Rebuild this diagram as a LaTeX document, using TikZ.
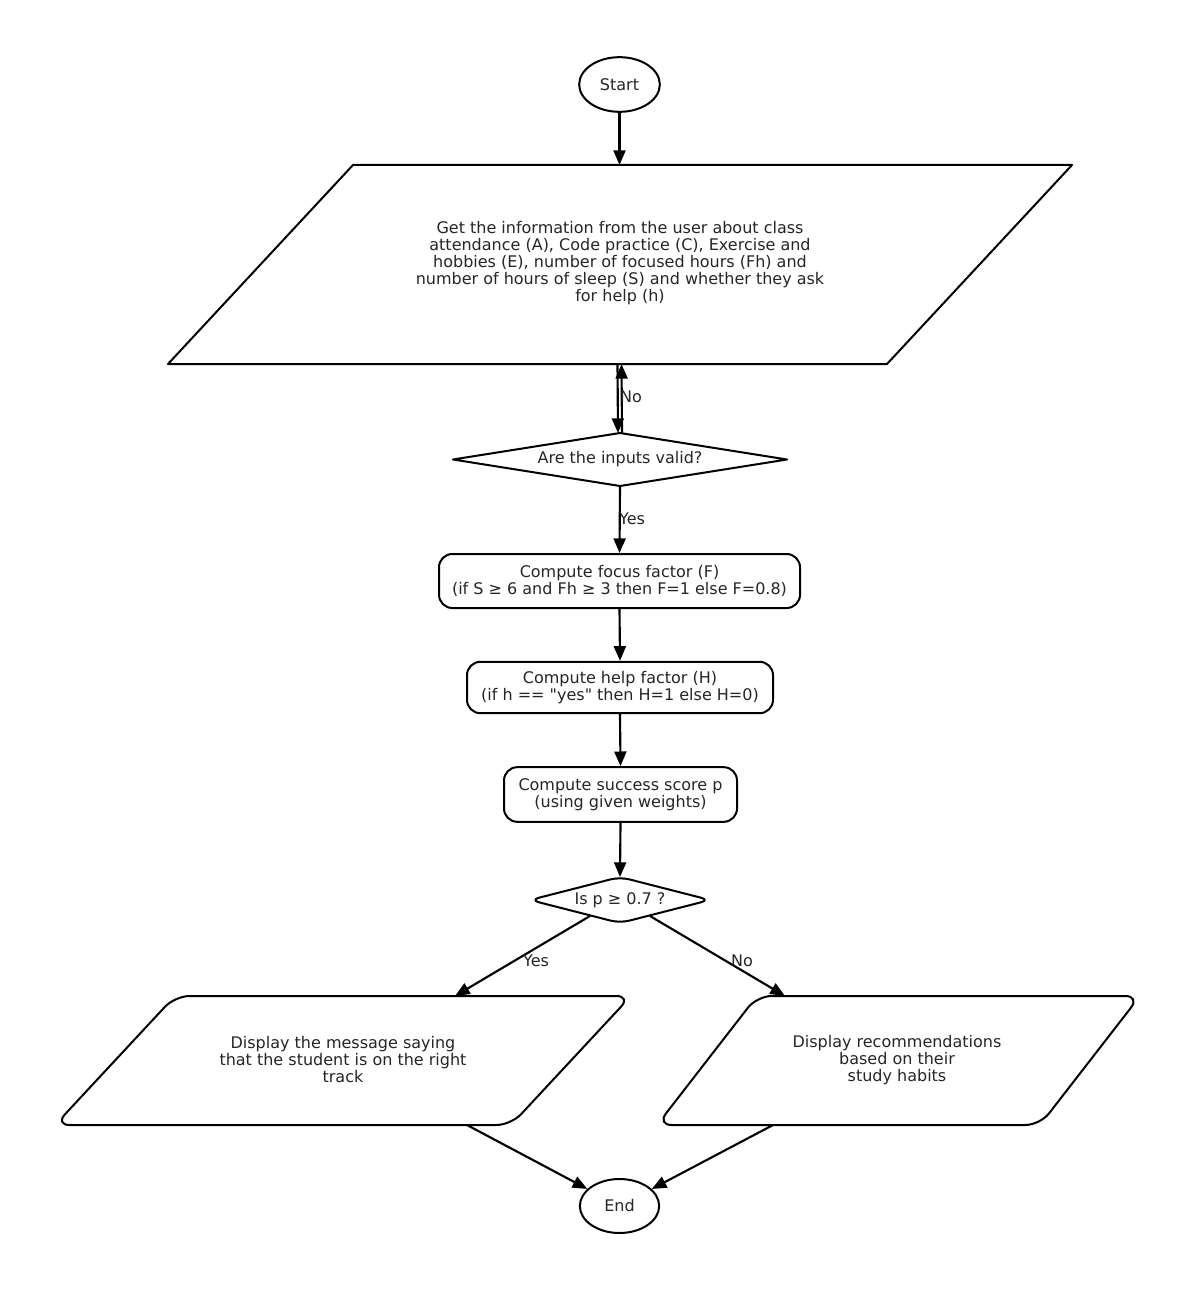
\documentclass[tikz,border=0pt]{standalone}
\usepackage{fontspec}
\setmainfont{DejaVu Sans}[Ligatures=TeXOff]
\usetikzlibrary{shapes.geometric,arrows.meta}
\begin{document}
\begin{tikzpicture}[x=0.75pt,y=-0.75pt,
  line width=1.5pt,
  txt/.style={font=\fontsize{12}{12.75}\selectfont, text=black!85, align=center, inner sep=0pt},
  arr/.style={line width=1.6pt, -{Triangle[length=11pt,width=9pt]}},
  term/.style={txt, draw, ellipse, minimum width=60.5pt, minimum height=41pt},
  proc/.style={txt, draw, rounded corners=10pt},
  lbl/.style={font=\fontsize{12}{13}\selectfont, text=black!85, inner sep=0pt},
  shapeline/.style={line width=1.5pt, line join=round}
]
\useasboundingbox[fill=white] (0,0) rectangle (1200,1291);

% Start
\node[term] (start) at (619.5,84.5) {Start};

% Input parallelogram
\draw[shapeline] (353,165) -- (1072,165) -- (887,364) -- (168,364) -- cycle;
\node[txt] (input) at (620,263) {Get the information from the user about class\\
attendance (A), Code practice (C), Exercise and\\
hobbies (E), number of focused hours (Fh) and\\
number of hours of sleep (S) and whether they ask\\
for help (h)};
\coordinate (in-n) at (619.5,165);
\coordinate (in-s) at (619.5,364);

% Decision 1
\draw[shapeline] (453,459.5) -- (620,433) -- (787,459.5) -- (620,486) -- cycle;
\node[txt] (valid) at (620,459.5) {Are the inputs valid?};
\coordinate (v-n) at (620,433);
\coordinate (v-s) at (620,486);

% Process boxes
\node[proc, minimum width=270.75pt, minimum height=40.5pt] (focus) at (619.5,581) {Compute focus factor (F)\\(if S ≥ 6 and Fh ≥ 3 then F=1 else F=0.8)};
\node[proc, minimum width=229.5pt, minimum height=38.5pt] (help) at (620,687.5) {Compute help factor (H)\\(if h == "yes" then H=1 else H=0)};
\node[proc, minimum width=174.75pt, minimum height=41pt] (score) at (620.5,794.5) {Compute success score p\\(using given weights)};

% Decision 2
\draw[shapeline, rounded corners=7pt] (530,900) -- (620,877) -- (710,900) -- (620,923) -- cycle;
\node[txt] (check) at (620,900) {Is p ≥ 0.7 ?};
\coordinate (c-n) at (620,877);
\coordinate (c-l) at (590,916);
\coordinate (c-r) at (650,916);

% Output parallelograms
\draw[shapeline, rounded corners=11pt] (175,996) -- (631,996) -- (511,1125) -- (55,1125) -- cycle;
\node[txt] (good) at (343,1060) {Display the message saying\\that the student is on the right\\track};
\coordinate (g-t) at (455,996);
\coordinate (g-b) at (467,1125);

\draw[shapeline, rounded corners=11pt] (757,996) -- (1140,996) -- (1040,1125) -- (657,1125) -- cycle;
\node[txt] (recs) at (897,1060) {Display recommendations\\based on their\\study habits};
\coordinate (r-t) at (785,996);
\coordinate (r-b) at (773,1125);

% End
\node[term, minimum height=40.5pt, minimum width=59.5pt] (end) at (619.5,1206) {End};

% Connectors
\draw[arr] (start) -- (in-n);
\draw[arr] ([xshift=-1.5pt]in-s) -- ([xshift=-1.5pt]v-n);
\draw[arr] ([xshift=1.5pt]v-n) -- ([xshift=1.5pt]in-s);
\node[lbl] (nolbl) at (631,397) {No};
\draw[arr] (v-s) -- (focus.north);
\node[lbl] (yeslbl) at (632,519) {Yes};
\draw[arr] (focus.south) -- (help.north);
\draw[arr] (help.south) -- (score.north);
\draw[arr] (score.south) -- (c-n);
\draw[arr] (c-l) -- (g-t);
\node[lbl] (yes2) at (536,961) {Yes};
\draw[arr] (c-r) -- (r-t);
\node[lbl] (no2) at (742,961) {No};
\draw[arr] (g-b) -- (end);
\draw[arr] (r-b) -- (end);
\end{tikzpicture}
\end{document}
